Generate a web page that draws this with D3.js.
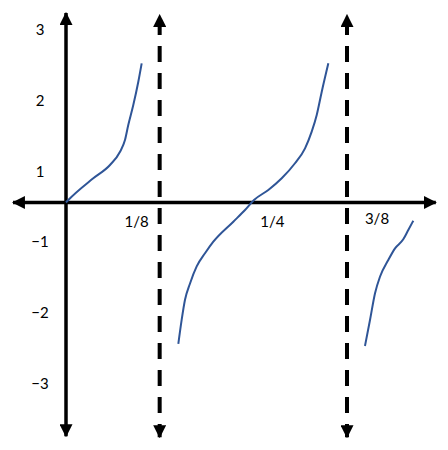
<!DOCTYPE html>
<html>
<head>
<meta charset="utf-8">
<script src="https://cdn.jsdelivr.net/npm/d3@7"></script>
<style>
  body { margin: 0; background: #fff; }
  svg { display: block; }
</style>
</head>
<body>
<svg id="chart" width="448" height="450"></svg>
<script>
// x positions are in periods (fractions), y in function units
const xTickValues = [1/8, 1/4, 3/8];
const xTickLabels = ["1/8", "1/4", "3/8"];
const yTickValues = [3, 2, 1, -1, -2, -3];
const yTickLabels = ["3", "2", "1", "\u22121", "\u22122", "\u22123"];
const asymptotes = [1/8, 3/8];

// branch samples
const branch1X = [0, 0.0031, 0.0364, 0.0587, 0.0721, 0.0787, 0.0831, 0.0898, 0.0965, 0.1010];
const branch1Y = [0, 0.08, 0.786, 1.095, 1.282, 1.447, 1.659, 1.941, 2.27, 2.53];
const branch2X = [0.1499, 0.1544, 0.1588, 0.1655, 0.1744, 0.1855, 0.1966, 0.2233, 0.2389, 0.2509,
                  0.2700, 0.2879, 0.3056, 0.3190, 0.3279, 0.3346, 0.3413, 0.3501];
const branch2Y = [-2.43, -2.09, -1.81, -1.58, -1.34, -1.155, -0.985, -0.482, -0.188, 0.081,
                  0.406, 0.786, 1.119, 1.33, 1.565, 1.80, 2.129, 2.53];
const branch3X = [0.3990, 0.4057, 0.4124, 0.4190, 0.4301, 0.4391, 0.4501, 0.4568, 0.4635];
const branch3Y = [-2.46, -2.094, -1.718, -1.485, -1.249, -1.085, -0.925, -0.691, -0.457];

const xExtent = [-0.0707, 0.4935];
const yExtent = [-3.73, 3.24];

const svg = d3.select("#chart");

const xScale = d3.scaleLinear()
	.domain([0, 0.375])
	.range([66, 347]);

// the labels in the picture sit half a step off zero, so the scale is piecewise
const yScale = d3.scaleLinear()
	.domain([-3, -1, 0, 1, 3])
	.range([384.3, 242.3, 202.5, 171.7, 30]);

const defs = svg.append("defs");
defs.append("marker")
	.attr("id", "arrow")
	.attr("markerUnits", "userSpaceOnUse")
	.attr("viewBox", "0 0 12 12")
	.attr("refX", 11)
	.attr("refY", 6)
	.attr("markerWidth", 13)
	.attr("markerHeight", 13)
	.attr("orient", "auto-start-reverse")
	.append("path")
	.attr("d", "M0,0 L12,6 L0,12 Z")
	.attr("fill", "black");

// asymptotes
svg.append("g")
	.selectAll("line")
	.data(asymptotes)
	.enter()
	.append("line")
	.attr("x1", d => xScale(d))
	.attr("x2", d => xScale(d))
	.attr("y1", yScale(yExtent[1]) + 2)
	.attr("y2", yScale(yExtent[0]) + 1)
	.attr("stroke", "black")
	.attr("stroke-width", 4)
	.attr("stroke-dasharray", "16,11")
	.attr("stroke-dashoffset", -4)
	.attr("marker-start", "url(#arrow)")
	.attr("marker-end", "url(#arrow)");

// axes
svg.append("line")
	.attr("x1", xScale(xExtent[0]))
	.attr("x2", xScale(xExtent[1]))
	.attr("y1", yScale(0))
	.attr("y2", yScale(0))
	.attr("stroke", "black")
	.attr("stroke-width", 3.5)
	.attr("marker-start", "url(#arrow)")
	.attr("marker-end", "url(#arrow)");

svg.append("line")
	.attr("x1", xScale(0))
	.attr("x2", xScale(0))
	.attr("y1", yScale(yExtent[1]))
	.attr("y2", yScale(yExtent[0]))
	.attr("stroke", "black")
	.attr("stroke-width", 3.5)
	.attr("marker-start", "url(#arrow)")
	.attr("marker-end", "url(#arrow)");

// curve branches
const line = d3.line()
	.x(d => xScale(d[0]))
	.y(d => yScale(d[1]))
	.curve(d3.curveMonotoneX);

const branches = [
	d3.zip(branch1X, branch1Y),
	d3.zip(branch2X, branch2Y),
	d3.zip(branch3X, branch3Y)
];

svg.append("g")
	.selectAll("path")
	.data(branches)
	.enter()
	.append("path")
	.attr("d", line)
	.attr("fill", "none")
	.attr("stroke", "#2f5597")
	.attr("stroke-width", 2);

// tick labels
const labelFont = "Lato, 'Liberation Sans', sans-serif";
const xLabelNudge = [-23, 19, 30];

svg.append("g")
	.selectAll("text")
	.data(xTickValues)
	.enter()
	.append("text")
	.attr("x", (d, i) => xScale(d) + xLabelNudge[i])
	.attr("y", (d, i) => yScale(0) + (i == 2 ? 21 : 24))
	.attr("text-anchor", "middle")
	.style("font-family", labelFont)
	.style("font-size", "15px")
	.style("fill", "black")
	.text((d, i) => xTickLabels[i]);

svg.append("g")
	.selectAll("text")
	.data(yTickValues)
	.enter()
	.append("text")
	.attr("x", 40)
	.attr("y", d => yScale(d) + 5)
	.attr("text-anchor", "middle")
	.style("font-family", labelFont)
	.style("font-size", "15px")
	.style("fill", "black")
	.text((d, i) => yTickLabels[i]);
</script>
</body>
</html>
